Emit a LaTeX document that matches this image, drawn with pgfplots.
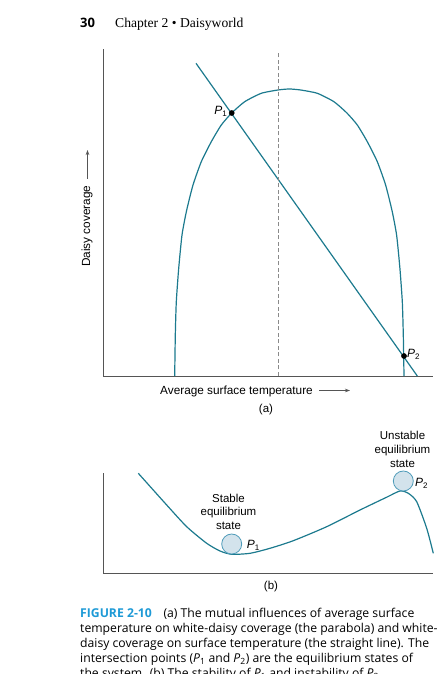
\documentclass[border=0pt]{standalone}
\usepackage{fontspec}
\setmainfont{Liberation Sans}
\newfontfamily\serif{Liberation Serif}
\newfontfamily\capfont{Open Sans}
\usepackage{pgfplots}
\pgfplotsset{compat=1.18}
\usetikzlibrary{arrows.meta}
\definecolor{curve}{HTML}{1C7A8E}
\definecolor{ballfill}{HTML}{D3E3EC}
\definecolor{balledge}{HTML}{4E9BB9}
\definecolor{capblue}{HTML}{1E9AD6}
\definecolor{axisc}{HTML}{555555}
\definecolor{dashc}{HTML}{8A8A8A}
\newcommand{\Pn}[1]{{\itshape P}\textsubscript{#1}}
\begin{document}
\begin{tikzpicture}[x=1pt,y=1pt]
\path[use as bounding box] (0,0) rectangle (445,674);
\clip (0,0) rectangle (445,674);
% header
\node[anchor=base west, inner sep=0, font=\capfont\bfseries\fontsize{13}{15}\selectfont] at (80,646) {30};
\node[anchor=base west, inner sep=0, font=\serif\fontsize{13.6}{16}\selectfont] at (115,646) {Chapter 2 \textbullet{} Daisyworld};
% top plot
\begin{axis}[at={(103.3pt,298pt)}, anchor=south west, scale only axis,
  width=329.7pt, height=327pt, xmin=103.3, xmax=433, ymin=0, ymax=327,
  axis x line=bottom, axis y line=left,
  axis line style={-, draw=axisc, line width=0.9pt},
  xtick=\empty, ytick=\empty, clip=false]
\addplot[curve, line width=1.2pt, smooth, tension=0.35] coordinates {
(174.7,0)(175.3,41)(176.3,74.3)(178.7,107.7)(182,141)(186.5,165)(193,191)(201.3,214.3)(211.3,234.3)(221.3,251)(231.7,263)(244.7,274.3)(261.3,282.7)(278,286)(289.3,287)(300.6,286)(317.3,282.7)(333.9,274.3)(346.9,263)(357.3,251)(367.3,234.3)(377.3,214.3)(385.6,191)(392.1,165)(396.6,141)(399.9,107.7)(402.3,74.3)(403.3,41)(404,0)};
\addplot[curve, line width=1.2pt] coordinates {(196,312.7)(417.3,0)};
\addplot[dashc, line width=0.8pt, dash pattern=on 4pt off 2.5pt] coordinates {(278,0)(278,324)};
\addplot[only marks, mark=*, mark size=2.6pt, black] coordinates {(231.7,263)(404,20)};
\node[anchor=base east, inner sep=0, font=\fontsize{12}{14}\selectfont] at (axis cs:227.5,261.7) {\Pn{1}};
\node[anchor=base west, inner sep=0, font=\fontsize{12}{14}\selectfont] at (axis cs:407,18.3) {\Pn{2}};
\end{axis}
% top axis labels
\node[anchor=west, inner sep=0, font=\fontsize{11.8}{14}\selectfont] at (160,283) {Average surface temperature};
\draw[axisc, line width=0.7pt, -{Stealth[length=5pt,width=3.5pt]}] (319,283.5)--(350,283.5);
\node[rotate=90, anchor=west, inner sep=0, font=\fontsize{11.8}{14}\selectfont] at (87,407) {Daisy coverage};
\draw[axisc, line width=0.7pt, -{Stealth[length=5pt,width=3.5pt]}] (87.5,495)--(87.5,524);
\node[anchor=center, inner sep=0, font=\fontsize{11.5}{14}\selectfont] at (266,264) {(a)};
% bottom plot
\begin{axis}[at={(103.3pt,100.3pt)}, anchor=south west, scale only axis,
  width=329.7pt, height=100.4pt, xmin=103.3, xmax=433, ymin=0, ymax=100.4,
  axis x line=bottom, axis y line=left,
  axis line style={-, draw=axisc, line width=0.9pt},
  xtick=\empty, ytick=\empty, clip=false]
\addplot[curve, line width=1.2pt, smooth, tension=0.4] coordinates {
(138.3,100.4)(166.7,68.7)(186.7,47)(206.7,30.4)(220,22.7)(231.7,19.4)(250,20.4)(270,25.4)(293.3,33)(326.7,47)(360,63.7)(386.7,76.5)(400,82.7)(408.3,80.4)(416.7,72)(426.7,45.4)(433.3,20.4)};
\addplot[only marks, mark=*, mark size=10pt, mark options={fill=ballfill, draw=balledge, line width=0.8pt}] coordinates {(231.7,29.7)(403.3,92.7)};
\node[anchor=base west, inner sep=0, font=\fontsize{12}{14}\selectfont] at (axis cs:246.7,25.4) {\Pn{1}};
\node[anchor=base west, inner sep=0, font=\fontsize{12}{14}\selectfont] at (axis cs:415,87) {\Pn{2}};
\node[anchor=base, inner sep=0, font=\fontsize{11.5}{14}\selectfont] at (axis cs:228.5,71) {Stable};
\node[anchor=base, inner sep=0, font=\fontsize{11.5}{14}\selectfont] at (axis cs:228.5,58) {equilibrium};
\node[anchor=base, inner sep=0, font=\fontsize{11.5}{14}\selectfont] at (axis cs:228.5,44.4) {state};
\node[anchor=base, inner sep=0, font=\fontsize{11.5}{14}\selectfont] at (axis cs:402.5,133.7) {Unstable};
\node[anchor=base, inner sep=0, font=\fontsize{11.5}{14}\selectfont] at (axis cs:402.5,119.7) {equilibrium};
\node[anchor=base, inner sep=0, font=\fontsize{11.5}{14}\selectfont] at (axis cs:402.5,106.4) {state};
\end{axis}
\node[anchor=center, inner sep=0, font=\fontsize{11.5}{14}\selectfont] at (271,87.3) {(b)};
% caption
\begin{scope}[every node/.style={anchor=base west, inner sep=0, font=\capfont\fontsize{12.2}{15}\selectfont}]
\node[text=capblue, font=\capfont\bfseries\fontsize{12.2}{15}\selectfont] at (80,56.7) {FIGURE 2-10};
\node at (163.3,56.7) {(a) The mutual influences of average surface};
\node at (80,41.7) {temperature on white-daisy coverage (the parabola) and white-};
\node at (80,26.7) {daisy coverage on surface temperature (the straight line). The};
\node at (80,11.7) {intersection points (\Pn{1} and \Pn{2}) are the equilibrium states of};
\node at (80,-3.3) {the system. (b) The stability of \Pn{1} and instability of \Pn{2}};
\end{scope}
\end{tikzpicture}
\end{document}
